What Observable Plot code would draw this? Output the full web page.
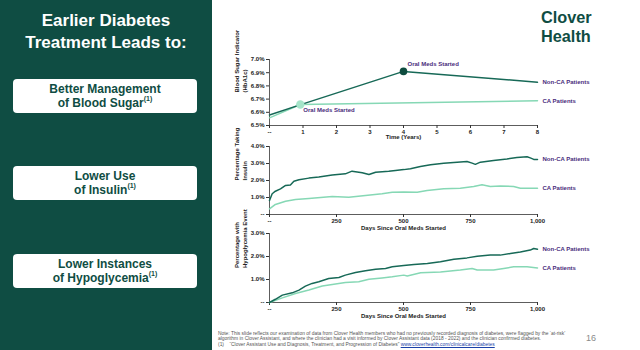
<!DOCTYPE html>
<html><head><meta charset="utf-8">
<script src="https://cdn.jsdelivr.net/npm/d3@7"></script>
<script src="https://cdn.jsdelivr.net/npm/@observablehq/plot@0.6"></script>
<style>
body{margin:0;width:640px;height:350px;position:relative;overflow:hidden;background:#fff;font-family:"Liberation Sans",Arial,sans-serif;}
#panel{position:absolute;left:0;top:0;width:212px;height:350px;background:#0f4d43;}
.title{position:absolute;left:0;width:212px;top:10px;text-align:center;color:#fff;font-weight:bold;font-size:17px;line-height:22px;}
.box{position:absolute;left:13px;width:184px;height:34px;background:#fff;border-radius:4px;color:#0f4d43;font-weight:bold;font-size:12px;line-height:14px;text-align:center;display:flex;align-items:center;justify-content:center;}
.box sup{font-size:7px;position:relative;top:-1px;vertical-align:top;line-height:7px;}
.logo{position:absolute;left:541px;color:#0f4d43;font-weight:bold;font-size:16.3px;line-height:19px;}
.chart{position:absolute;left:215px;}
#foot{position:absolute;left:218px;top:331px;font-size:4.9px;line-height:5.4px;color:#555;white-space:nowrap;}
#foot a{color:#1a3fa8;text-decoration:underline;}
#page{position:absolute;left:586px;top:333px;font-size:9px;color:#8a8a8a;}
</style></head>
<body>
<div id="panel">
  <div class="title">Earlier Diabetes<br>Treatment Leads to:</div>
  <div class="box" style="top:79px"><div>Better Management<br>of Blood Sugar<sup>(1)</sup></div></div>
  <div class="box" style="top:166px"><div>Lower Use<br>of Insulin<sup>(1)</sup></div></div>
  <div class="box" style="top:254px"><div>Lower Instances<br>of Hypoglycemia<sup>(1)</sup></div></div>
</div>
<div class="logo" style="top:8px">Clover</div>
<div class="logo" style="top:26.5px">Health</div>
<div class="chart" id="c1" style="top:52px"></div>
<div class="chart" id="c2" style="top:141px"></div>
<div class="chart" id="c3" style="top:228px"></div>
<div id="foot">Note: This slide reflects our examination of data from Clover Health members who had no previously recorded diagnosis of diabetes, were flagged by the ‘at-risk’<br>algorithm in Clover Assistant, and where the clinician had a visit informed by Clover Assistant data (2018 - 2022) and the clinician confirmed diabetes.<br>(1)&nbsp;&nbsp;&nbsp;&nbsp;“Clover Assistant Use and Diagnosis, Treatment, and Progression of Diabetes” <a>www.cloverhealth.com/clinicalcare/diabetes</a></div>
<div id="page">16</div>
<script>
// ---- Data ----
const seriesNames = ["Non-CA Patients", "CA Patients"];
const markerLabel = "Oral Meds Started";

// Chart 1: HbA1c by year
const hba1cNonCaYears = [0, 1, 4, 8];
const hba1cNonCaValues = [6.58, 6.664, 6.91, 6.828];
const hba1cCaYears = [0, 0.92, 8];
const hba1cCaValues = [6.558, 6.659, 6.687];
const hba1cYearTicks = [0, 1, 2, 3, 4, 5, 6, 7, 8];
const hba1cValueTicks = [6.5, 6.6, 6.7, 6.8, 6.9, 7.0];

// Chart 2: % taking insulin
const insulinNonCaDays = [0, 10, 22, 41, 60, 78, 91, 110, 147, 184, 234, 283, 308, 346, 371, 396, 445, 470, 501, 526, 563, 601, 650, 700, 737, 756, 768, 787, 836, 886, 923, 961, 973, 986, 1000];
const insulinNonCaPct = [0.82, 1.22, 1.37, 1.51, 1.71, 1.74, 1.96, 2.04, 2.14, 2.2, 2.33, 2.39, 2.55, 2.45, 2.35, 2.49, 2.55, 2.59, 2.64, 2.69, 2.82, 2.92, 3.02, 3.08, 3.12, 3.02, 2.95, 3.08, 3.18, 3.27, 3.35, 3.4, 3.33, 3.24, 3.24];
const insulinCaDays = [0, 22, 60, 97, 147, 234, 296, 358, 420, 458, 501, 551, 588, 650, 712, 762, 793, 824, 861, 911, 936, 1000];
const insulinCaPct = [0.33, 0.59, 0.78, 0.88, 0.94, 1.06, 1.02, 1.12, 1.22, 1.31, 1.33, 1.31, 1.41, 1.51, 1.55, 1.65, 1.75, 1.65, 1.67, 1.65, 1.55, 1.55];
const insulinPctTicks = [0, 1, 2, 3, 4];

// Chart 3: % with hypoglycemia event
const hypoNonCaDays = [0, 22, 48, 85, 110, 134, 159, 184, 221, 259, 283, 321, 358, 396, 433, 458, 501, 539, 589, 638, 688, 737, 775, 824, 861, 899, 936, 973, 986, 1000];
const hypoNonCaPct = [0, 0.14, 0.32, 0.42, 0.54, 0.71, 0.83, 0.9, 1.04, 1.09, 1.19, 1.3, 1.38, 1.45, 1.48, 1.55, 1.61, 1.65, 1.7, 1.77, 1.88, 1.94, 2.01, 2.06, 2.06, 2.13, 2.2, 2.28, 2.35, 2.32];
const hypoCaDays = [0, 48, 97, 147, 197, 234, 283, 333, 371, 420, 458, 501, 514, 564, 638, 712, 756, 775, 836, 874, 911, 961, 1000];
const hypoCaPct = [0, 0.2, 0.39, 0.54, 0.72, 0.78, 0.87, 0.9, 1.01, 1.07, 1.12, 1.19, 1.15, 1.29, 1.33, 1.41, 1.48, 1.41, 1.41, 1.48, 1.55, 1.55, 1.5];
const hypoPctTicks = [0, 1, 2, 3];

const dayTicks = [0, 250, 500, 750, 1000];

// ---- Styles ----
const DARK = "#176957", LIGHT = "#86d8b5", DOT_DARK = "#0e4c3f", DOT_LIGHT = "#a5e4c9", PURPLE = "#4a2c7c", AXIS = "#333";

const zip = (xs, ys) => xs.map((x, i) => ({x, y: ys[i]}));
const pctFmt = d => d === 0 ? "--" : d.toFixed(1) + "%";
const dayFmt = d => d === 0 ? "--" : d3.format(",")(d);

function chart({xDomain, yDomain, xTicks, yTicks, xFmt, yFmt, height, marginTop, nonCa, ca, xTitle, yTitle, titleDy = 15, extra = []}) {
  return Plot.plot({
    width: 392, height, marginLeft: 54, marginRight: 70, marginTop, marginBottom: 17,
    x: {domain: xDomain}, y: {domain: yDomain},
    style: {background: "transparent", fontFamily: "'Liberation Sans', Arial, sans-serif", fontSize: "6px", fontWeight: "bold", color: "#222", overflow: "visible"},
    marks: [
      Plot.axisX({ticks: xTicks, tickFormat: xFmt, tickSize: 3, tickPadding: 1, label: null, stroke: AXIS}),
      Plot.axisY({ticks: yTicks, tickFormat: yFmt, tickSize: 3, tickPadding: 2, label: null, stroke: AXIS}),
      Plot.ruleX([xDomain[0]], {stroke: AXIS, strokeWidth: 0.8}),
      Plot.ruleY([yDomain[0]], {stroke: AXIS, strokeWidth: 0.8}),
      Plot.line(ca, {x: "x", y: "y", stroke: LIGHT, strokeWidth: 1.5}),
      Plot.line(nonCa, {x: "x", y: "y", stroke: DARK, strokeWidth: 1.5}),
      ...extra,
      Plot.text([nonCa[nonCa.length - 1]], {x: "x", y: "y", text: () => seriesNames[0], textAnchor: "start", dx: 5, fill: PURPLE}),
      Plot.text([ca[ca.length - 1]], {x: "x", y: "y", text: () => seriesNames[1], textAnchor: "start", dx: 5, fill: PURPLE}),
      Plot.text([xTitle], {frameAnchor: "bottom", dy: titleDy, fill: "#222"}),
      Plot.text([yTitle], {frameAnchor: "left", rotate: -90, dx: -29, lineHeight: 1.25, fill: "#222"})
    ]
  });
}

const h1Non = zip(hba1cNonCaYears, hba1cNonCaValues);
const h1Ca = zip(hba1cCaYears, hba1cCaValues);
document.getElementById("c1").append(chart({
  xDomain: [0, 8], yDomain: [6.5, 7.0], xTicks: hba1cYearTicks, yTicks: hba1cValueTicks,
  xFmt: d => d === 0 ? "--" : String(d), yFmt: d => d.toFixed(1) + "%",
  height: 90, marginTop: 7, nonCa: h1Non, ca: h1Ca, titleDy: 13.5,
  xTitle: "Time (Years)", yTitle: "Blood Sugar Indicator\n(HbA1c)",
  extra: [
    Plot.dot([h1Ca[1]], {x: "x", y: "y", r: 4.2, fill: DOT_LIGHT}),
    Plot.dot([h1Non[2]], {x: "x", y: "y", r: 3.8, fill: DOT_DARK}),
    Plot.text([h1Non[2]], {x: "x", y: "y", text: () => markerLabel, textAnchor: "start", dx: 4, dy: -7, fill: PURPLE}),
    Plot.text([h1Ca[1]], {x: "x", y: "y", text: () => markerLabel, textAnchor: "start", dx: 3, dy: 6, fill: PURPLE})
  ]
}));

document.getElementById("c2").append(chart({
  xDomain: [0, 1000], yDomain: [0, 4], xTicks: dayTicks, yTicks: insulinPctTicks,
  xFmt: dayFmt, yFmt: pctFmt, height: 90, marginTop: 5,
  nonCa: zip(insulinNonCaDays, insulinNonCaPct), ca: zip(insulinCaDays, insulinCaPct),
  xTitle: "Days Since Oral Meds Started", yTitle: "Percentage Taking\nInsulin"
}));

document.getElementById("c3").append(chart({
  xDomain: [0, 1000], yDomain: [0, 3], xTicks: dayTicks, yTicks: hypoPctTicks,
  xFmt: dayFmt, yFmt: pctFmt, height: 91, marginTop: 5,
  nonCa: zip(hypoNonCaDays, hypoNonCaPct), ca: zip(hypoCaDays, hypoCaPct),
  xTitle: "Days Since Oral Meds Started", yTitle: "Percentage with\nHypoglycemia Event"
}));
</script>
</body></html>
